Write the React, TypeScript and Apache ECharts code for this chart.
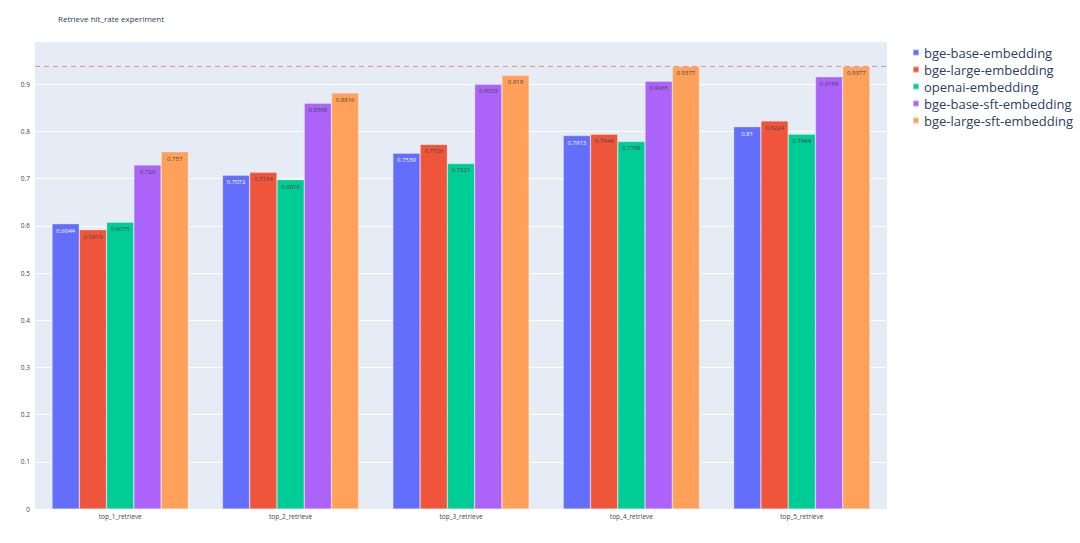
import React, { useEffect, useRef } from "react";
import * as echarts from "echarts";

const categories = ["top_1_retrieve", "top_2_retrieve", "top_3_retrieve", "top_4_retrieve", "top_5_retrieve"];
const seriesNames = [
  "bge-base-embedding",
  "bge-large-embedding",
  "openai-embedding",
  "bge-base-sft-embedding",
  "bge-large-sft-embedding",
];
const bgeBase = [0.6044, 0.7072, 0.7539, 0.7913, 0.81];
const bgeLarge = [0.5919, 0.7134, 0.7726, 0.7944, 0.8224];
const openai = [0.6075, 0.6978, 0.7321, 0.7788, 0.7944];
const bgeBaseSft = [0.729, 0.8598, 0.9003, 0.9065, 0.9159];
const bgeLargeSft = [0.757, 0.8816, 0.919, 0.9377, 0.9377];
const maxLine = 0.9377;

const colors = ["#636EFA", "#EF553B", "#00CC96", "#AB63FA", "#FFA15A"];
const labelColors = ["#ffffff", "#444444", "#444444", "#444444", "#444444"];

export default function App() {
  const ref = useRef<HTMLDivElement>(null);
  useEffect(() => {
    if (!ref.current) return;
    const chart = echarts.init(ref.current, undefined, { renderer: "svg" });
    const data = [bgeBase, bgeLarge, openai, bgeBaseSft, bgeLargeSft];
    const series: any[] = data.map((d, i) => ({
      name: seriesNames[i],
      type: "bar",
      data: d,
      barGap: "0%",
      barCategoryGap: "20%",
      itemStyle: {
        color: colors[i],
        borderColor: "rgba(255,255,255,0.45)",
        borderWidth: 0.6,
      },
      label: {
        show: true,
        position: "insideTop",
        distance: 4,
        fontSize: 6,
        color: labelColors[i],
        fontFamily: "Open Sans",
        formatter: (p: any) => String(p.value),
      },
      emphasis: { disabled: true },
    }));
    series.push({
      name: "max",
      type: "line",
      xAxisIndex: 1,
      data: [
        [0, maxLine],
        [1, maxLine],
      ],
      symbol: "none",
      silent: true,
      z: 5,
      lineStyle: { color: "#F08C8C", type: [5, 4], width: 1 },
      emphasis: { disabled: true },
    });
    chart.setOption({
      animation: false,
      textStyle: { fontFamily: "Open Sans" },
      title: {
        text: "Retrieve hit_rate experiment",
        left: 53,
        top: 9,
        textStyle: { fontSize: 8, fontWeight: "normal", color: "#2a3f5f", fontFamily: "Open Sans" },
      },
      legend: {
        orient: "vertical",
        left: 907,
        top: 41,
        icon: "rect",
        itemWidth: 6,
        itemHeight: 6,
        itemGap: 4,
        textStyle: { fontSize: 13, color: "#2a3f5f", fontFamily: "Open Sans" },
        data: seriesNames,
      },
      grid: {
        left: 35,
        right: 193,
        top: 42,
        bottom: 34,
        show: true,
        backgroundColor: "#E5ECF6",
        borderWidth: 0,
      },
      xAxis: [
        {
          type: "category",
          data: categories,
          axisLine: { show: false },
          axisTick: { show: false },
          axisLabel: { fontSize: 6.5, color: "#444", margin: 4, fontFamily: "Open Sans" },
        },
        { type: "value", min: 0, max: 1, show: false },
      ],
      yAxis: {
        type: "value",
        min: 0,
        max: 0.9895,
        interval: 0.1,
        axisLine: { show: false },
        axisTick: { show: false },
        axisLabel: {
          fontSize: 6.5,
          color: "#444",
          margin: 5,
          showMaxLabel: false,
          fontFamily: "Open Sans",
          formatter: (v: number) => String(Math.round(v * 10) / 10),
        },
        splitLine: { show: true, lineStyle: { color: "#ffffff", width: 1 }, showMaxLine: false },
      },
      series,
    });
    return () => chart.dispose();
  }, []);
  return (
    <div
      ref={ref}
      style={{ width: 1080, height: 543, position: "fixed", left: 0, top: 0, background: "#fff" }}
    />
  );
}
